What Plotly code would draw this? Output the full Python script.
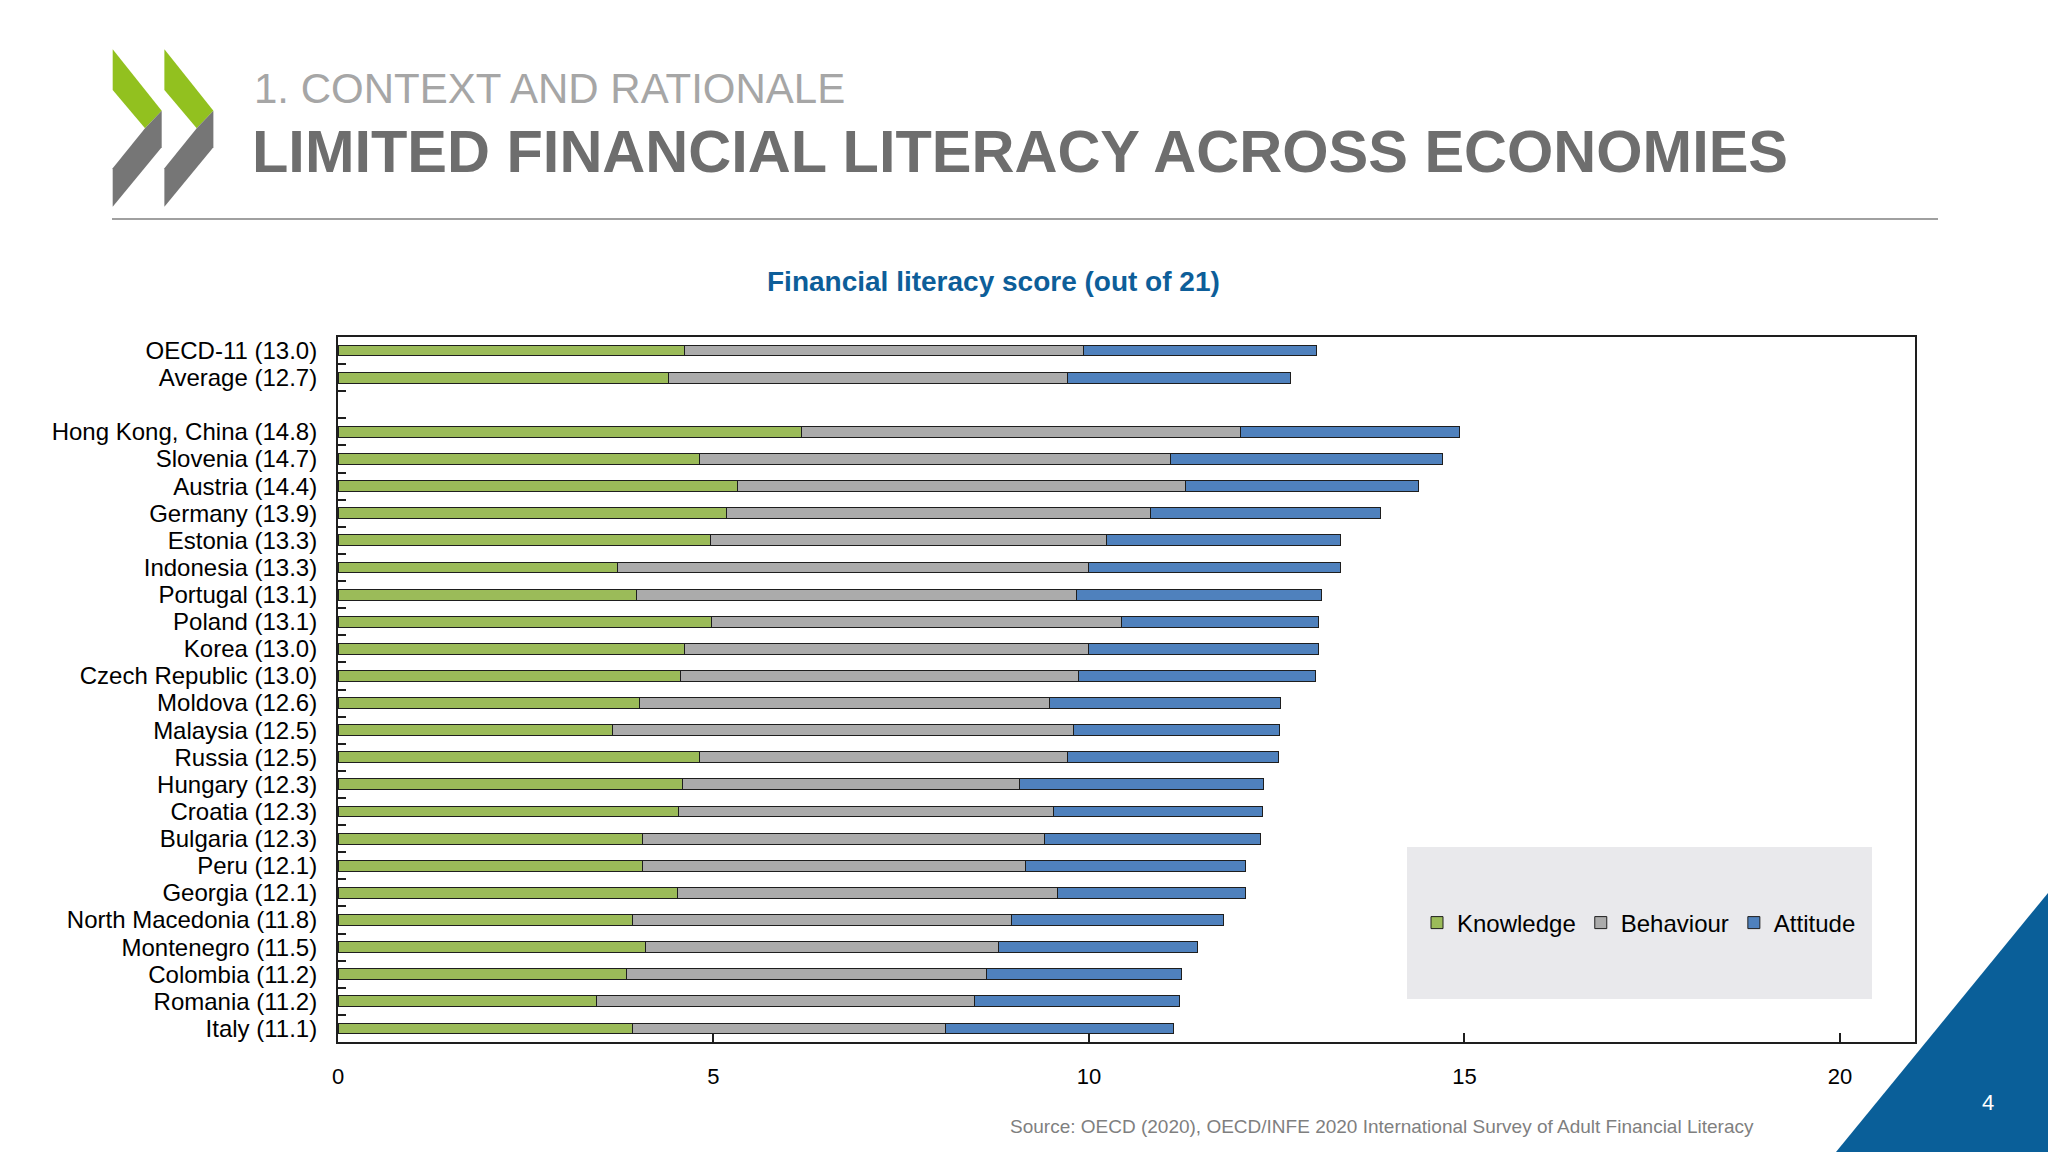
import plotly.graph_objects as go

# ---------------- data ----------------
countries = ["OECD-11", "Average", " ", "Hong Kong, China", "Slovenia", "Austria", "Germany",
             "Estonia", "Indonesia", "Portugal", "Poland", "Korea", "Czech Republic",
             "Moldova", "Malaysia", "Russia", "Hungary", "Croatia", "Bulgaria", "Peru",
             "Georgia", "North Macedonia", "Montenegro", "Colombia", "Romania", "Italy"]
total_labels = ["13.0", "12.7", None, "14.8", "14.7", "14.4", "13.9", "13.3", "13.3", "13.1",
                "13.1", "13.0", "13.0", "12.6", "12.5", "12.5", "12.3", "12.3", "12.3",
                "12.1", "12.1", "11.8", "11.5", "11.2", "11.2", "11.1"]
knowledge = [4.61, 4.40, None, 6.17, 4.82, 5.32, 5.17, 4.96, 3.72, 3.97, 4.97, 4.61, 4.56,
             4.02, 3.65, 4.82, 4.59, 4.54, 4.06, 4.05, 4.52, 3.92, 4.10, 3.84, 3.44, 3.92]
behaviour = [5.32, 5.32, None, 5.85, 6.27, 5.97, 5.65, 5.28, 6.28, 5.87, 5.46, 5.38, 5.30,
             5.46, 6.14, 4.90, 4.49, 4.99, 5.35, 5.10, 5.06, 5.05, 4.70, 4.79, 5.03, 4.17]
attitude = [3.10, 2.96, None, 2.91, 3.62, 3.10, 3.06, 3.11, 3.35, 3.25, 2.63, 3.07, 3.16,
            3.07, 2.75, 2.80, 3.25, 2.78, 2.87, 2.94, 2.51, 2.82, 2.64, 2.60, 2.73, 3.04]
series_names = ["Knowledge", "Behaviour", "Attitude"]
series_colors = ["#9bbb59", "#ababab", "#4f81bd"]
x_ticks = [0, 5, 10, 15, 20]

cat_labels = [f"{c} ({t})" if t else c for c, t in zip(countries, total_labels)]

# ---------------- geometry helpers (pixels -> paper) ----------------
W_PX, H_PX = 2048, 1152
L, R, T, B = 338, 1915, 337, 1042
PW, PH = R - L, B - T


def px(x):
    return (x - L) / PW


def py(y):
    return (B - y) / PH


def path(points):
    return "M " + " L ".join(f"{px(x):.5f},{py(y):.5f}" for x, y in points) + " Z"


FONT = "Liberation Sans, Arial, sans-serif"

fig = go.Figure()
for name, vals, col in zip(series_names, [knowledge, behaviour, attitude], series_colors):
    fig.add_trace(go.Bar(
        y=cat_labels, x=vals, name=name, orientation="h",
        marker=dict(color=col, line=dict(color="#1e1e1e", width=1)),
    ))

shapes = []
# OECD logo chevrons
logo_green = [(112.7, 49.3), (161.7, 110.7), (145, 128.3), (112.7, 90)]
logo_grey = [(161.7, 110.7), (161.7, 147.3), (112.7, 206.7), (112.7, 168.3), (145, 128.3)]
for dx in (0, 51.7):
    shapes.append(dict(type="path", xref="paper", yref="paper",
                       path=path([(x + dx, y) for x, y in logo_green]),
                       fillcolor="#92c11f", line=dict(width=0)))
    shapes.append(dict(type="path", xref="paper", yref="paper",
                       path=path([(x + dx, y) for x, y in logo_grey]),
                       fillcolor="#767676", line=dict(width=0)))
# horizontal rule
shapes.append(dict(type="line", xref="paper", yref="paper",
                   x0=px(112), x1=px(1938), y0=py(219), y1=py(219),
                   line=dict(color="#a0a0a0", width=2)))
# legend box
shapes.append(dict(type="rect", xref="paper", yref="paper",
                   x0=px(1407), x1=px(1872), y0=py(999), y1=py(847),
                   fillcolor="#e9e9ec", line=dict(width=0)))
# blue corner triangle
shapes.append(dict(type="path", xref="paper", yref="paper",
                   path=path([(2048, 893), (2048, 1152), (1836, 1152)]),
                   fillcolor="#0a5f99", line=dict(width=0)))

annotations = [
    dict(text="1. CONTEXT AND RATIONALE", x=px(252), y=py(89), xanchor="left", yanchor="middle",
         font=dict(family=FONT, size=42, color="#a6a6a6")),
    dict(text="<b>LIMITED FINANCIAL LITERACY ACROSS ECONOMIES</b>", x=px(250), y=py(151),
         xanchor="left", yanchor="middle", font=dict(family=FONT, size=59.5, color="#6e6e6e")),
    dict(text="<b>Financial literacy score (out of 21)</b>", x=px(993), y=py(281),
         xanchor="center", yanchor="middle", font=dict(family=FONT, size=28, color="#0d5e99")),
    dict(text="Source: OECD (2020), OECD/INFE 2020 International Survey of Adult Financial Literacy",
         x=px(1008), y=py(1126), xanchor="left", yanchor="middle",
         font=dict(family=FONT, size=19, color="#7f7f7f")),
    dict(text="4", x=px(1988), y=py(1102), xanchor="center", yanchor="middle",
         font=dict(family=FONT, size=22, color="#ffffff")),
]
for a in annotations:
    a.update(xref="paper", yref="paper", showarrow=False)

fig.update_layout(
    width=W_PX, height=H_PX,
    margin=dict(l=L, r=W_PX - R, t=T, b=H_PX - B, pad=0),
    paper_bgcolor="#ffffff", plot_bgcolor="#ffffff",
    barmode="stack", bargap=0.6,
    showlegend=True,
    legend=dict(orientation="h", x=px(1639), y=py(923), xanchor="center", yanchor="middle",
                bgcolor="rgba(0,0,0,0)", font=dict(family=FONT, size=24, color="#000000"),
                itemclick=False, traceorder="normal"),
    shapes=shapes, annotations=annotations,
    font=dict(family=FONT, color="#000000"),
)
fig.update_yaxes(
    type="category", categoryorder="array", categoryarray=cat_labels,
    autorange="reversed", tickmode="linear", tick0=0, dtick=1,
    tickson="boundaries", ticks="inside", ticklen=8,
    tickcolor="#1e1e1e", tickwidth=1.5, showgrid=False, zeroline=False,
    showline=True, linecolor="#1e1e1e", linewidth=2, mirror=True,
    tickfont=dict(family=FONT, size=24, color="#000000"), ticklabelstandoff=14,
)
fig.update_xaxes(
    range=[0, 21], tickvals=x_ticks, ticks="inside", ticklen=9, tickcolor="#1e1e1e",
    tickwidth=1.5, showgrid=False, zeroline=False, showline=True, linecolor="#1e1e1e",
    linewidth=2, mirror=True, tickfont=dict(family=FONT, size=22, color="#000000"),
    ticklabelstandoff=14,
)

fig.write_html("out.html")
